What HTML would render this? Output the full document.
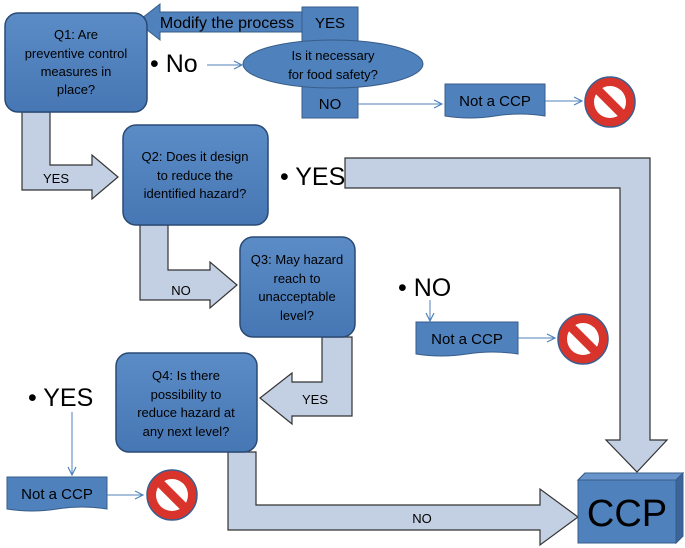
<html><body style="margin:0;background:#fff">
<svg width="685" height="548" xmlns="http://www.w3.org/2000/svg" font-family="Liberation Sans, sans-serif">
<defs>
<linearGradient id="g" x1="0" y1="0" x2="0" y2="1"><stop offset="0" stop-color="#5b8cc6"/><stop offset="1" stop-color="#4677b4"/></linearGradient>
<marker id="m" markerWidth="10" markerHeight="10" refX="9" refY="5" orient="auto"><path d="M1,1 L9,5 L1,9" fill="none" stroke="#4f81bd" stroke-width="1.2"/></marker>
<g id="no"><circle r="25" fill="#d9342b" stroke="#3a5f8f" stroke-width="1.5"/><circle r="16" fill="#fff"/><path d="M-13,-11 L11,13 L13,11 L-11,-13Z" fill="#d9342b" stroke="#d9342b" stroke-width="6"/></g>
</defs>
<g fill="#c3cfe2" stroke="#333" stroke-width="1.2">
<!-- Q1->Q2 -->
<path d="M22,112 H50 V165 H92 V155 L118,177 L92,199 V190 H22Z"/>
<!-- Q2->Q3 -->
<path d="M140,225 H168 V270 H210 V262 L237,285 L210,308 V300 H140Z"/>
<!-- Q3->Q4 -->
<path d="M322,337 H352 V416 H292 V424 L260,398 L292,373 V382 H322Z"/>
<!-- Q4->CCP -->
<path d="M228,452 H256 V505 H540 V489 L578,517 L540,545 V530 H228Z"/>
<!-- Big L -->
<path d="M345,158 H650 V440 H667 L637,472 L606,440 H620 V188 H345Z"/>
</g>
<!-- Modify arrow + YES/NO bar -->
<rect x="302" y="7" width="56" height="111" fill="#4f81bd" stroke="#385d8a"/>
<path d="M302,12 H160 V4 L137,22 L160,40 V32 H302Z" fill="#4f81bd" stroke="#385d8a"/>
<ellipse cx="333" cy="64" rx="90" ry="24" fill="#4f81bd" stroke="#385d8a"/>
<g fill="url(#g)" stroke="#2a4a75" stroke-width="1.5">
<rect x="5" y="13" width="142" height="99" rx="13"/>
<rect x="123" y="125" width="145" height="100" rx="13"/>
<rect x="240" y="237" width="115" height="100" rx="13"/>
<rect x="116" y="353" width="141" height="99" rx="13"/>
</g>
<!-- Not a CCP boxes -->
<g fill="#4f81bd" stroke="#385d8a">
<path d="M445,84 H545 V116 Q520,112 495,116 T445,116Z"/>
<path d="M416,322 H518 V354 Q493,350 467,354 T416,354Z"/>
<path d="M7,477 H107 V509 Q82,505 57,509 T7,509Z"/>
<path d="M578,480 L585,473 H683 V536 L676,543 H578Z" fill="#4673ad"/>
<path d="M578,480 L585,473 H683 L676,480Z" fill="#6a95cc"/>
<path d="M676,480 L683,473 V536 L676,543Z" fill="#3b649a"/>
<rect x="578" y="480" width="98" height="63"/>
</g>
<!-- thin arrows -->
<g stroke="#4f81bd" stroke-width="1" fill="none" marker-end="url(#m)">
<line x1="207" y1="65" x2="242" y2="65"/>
<line x1="358" y1="104" x2="442" y2="104"/>
<line x1="545" y1="101" x2="582" y2="101"/>
<line x1="430" y1="300" x2="430" y2="321"/>
<line x1="518" y1="338" x2="555" y2="338"/>
<line x1="72" y1="412" x2="72" y2="475"/>
<line x1="107" y1="495" x2="143" y2="495"/>
</g>
<use href="#no" x="610" y="102"/>
<use href="#no" x="583" y="339"/>
<use href="#no" x="172" y="495"/>
<g font-size="13" fill="#000" text-anchor="middle">
<text x="76" y="39">Q1: Are</text><text x="76" y="58">preventive control</text><text x="76" y="76">measures in</text><text x="76" y="94">place?</text>
<text x="195" y="161">Q2: Does it design</text><text x="195" y="180">to reduce the</text><text x="195" y="198">identified hazard?</text>
<text x="297" y="264">Q3: May hazard</text><text x="297" y="283">reach to</text><text x="297" y="301">unacceptable</text><text x="297" y="320">level?</text>
<text x="186" y="380">Q4: Is there</text><text x="186" y="399">possibility to</text><text x="186" y="417">reduce hazard at</text><text x="186" y="436">any next level?</text>
<text x="333" y="60">Is it necessary</text><text x="333" y="79">for food safety?</text>
<text x="330" y="28" font-size="15">YES</text><text x="330" y="109" font-size="15">NO</text>
<text x="227" y="28" font-size="16">Modify the process</text>
<text x="56" y="183">YES</text><text x="181" y="295">NO</text><text x="315" y="404">YES</text><text x="422" y="523">NO</text>
<text x="495" y="106" font-size="15">Not a CCP</text><text x="467" y="344" font-size="15">Not a CCP</text><text x="57" y="499" font-size="15">Not a CCP</text>
<text x="627" y="526" font-size="38">CCP</text>
</g>
<g font-size="25" fill="#000">
<text x="150" y="72">• No</text><text x="280" y="185">• YES</text><text x="398" y="296">• NO</text><text x="28" y="406">• YES</text>
</g>
</svg>
</body></html>
